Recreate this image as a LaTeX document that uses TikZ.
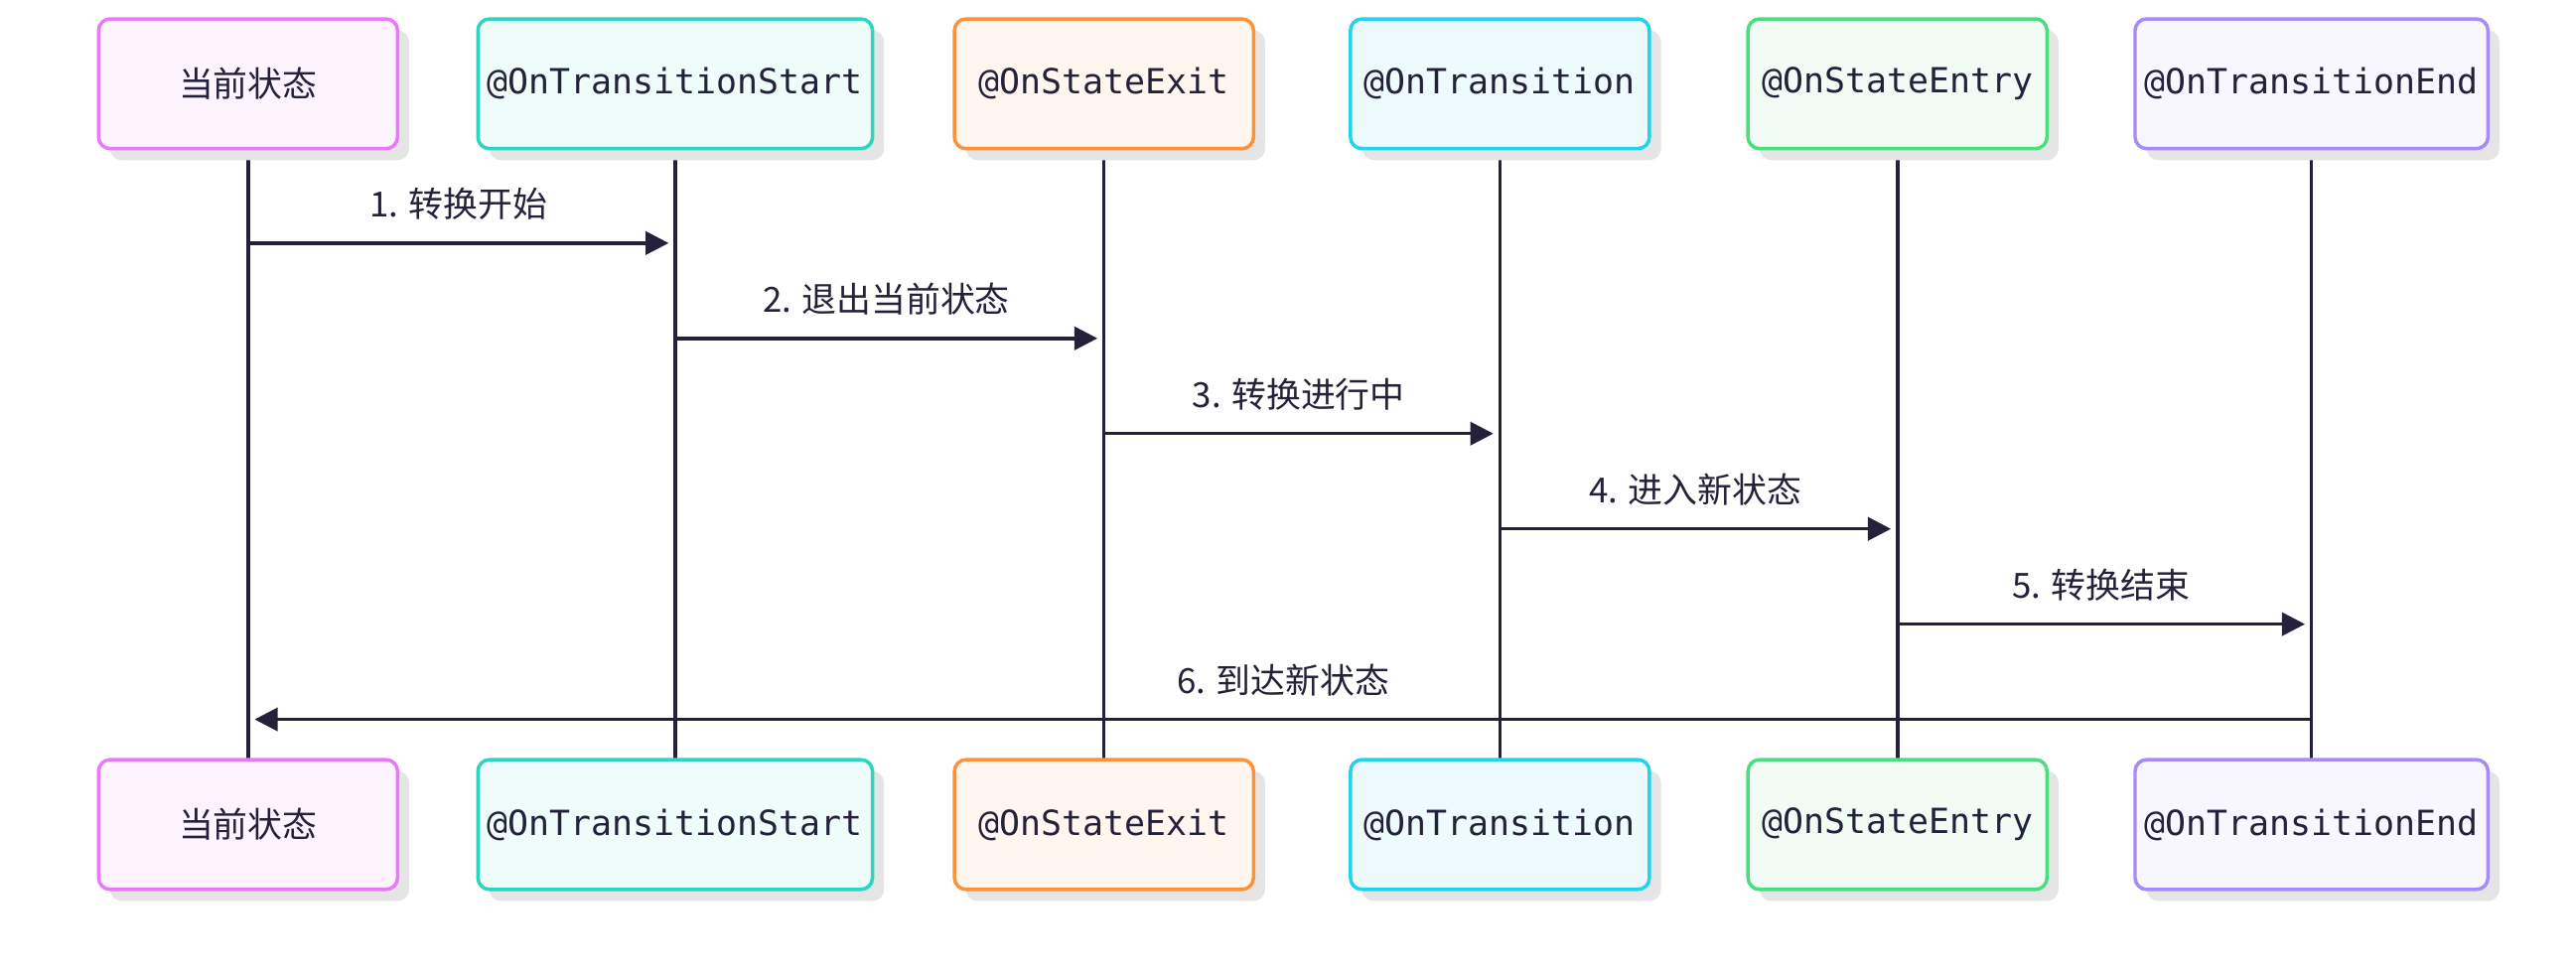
\documentclass[tikz,border=0pt]{standalone}
\usepackage{fontspec}
\setmonofont{DejaVu Sans Mono}
\newfontfamily\cjk{Noto Sans CJK SC}
\usetikzlibrary{positioning}
\usetikzlibrary{arrows.meta}
\usetikzlibrary{shadows}
\definecolor{inkc}{HTML}{24213A}
\tikzset{
	actor/.style={draw=#1, fill=#1!8!white, line width=1.2pt, rounded corners=4pt,
		minimum height=1.58cm, font=\ttfamily\large, text=inkc,
		drop shadow={shadow xshift=4pt, shadow yshift=-4pt, fill=black!10, opacity=1}},
	life/.style={draw=inkc, line width=1.2pt},
	msg/.style={draw=inkc, line width=1.2pt, -{Triangle[length=8pt,width=8pt]}},
	lbl/.style={above=4pt, font=\cjk\large, text=inkc}
}
\definecolor{pinkc}{HTML}{E879F9}
\definecolor{tealc}{HTML}{2DD4BF}
\definecolor{orangec}{HTML}{FB923C}
\definecolor{cyanc}{HTML}{22D3EE}
\definecolor{greenc}{HTML}{4ADE80}
\definecolor{purplec}{HTML}{A78BFA}
\begin{document}
\begin{tikzpicture}[x=0.02cm, y=-0.02cm]
		\useasboundingbox (0,0) rectangle (1568,591);
		
		% lifelines first, boxes on top
		\foreach \x in {151,411,672,913,1155,1407}
		\draw[life] (\x,51) -- (\x,502);
		
		\foreach \name/\x/\w/\col/\txt in {cur/151/182/pinkc/{\cjk 当前状态},
			start/411/220/tealc/@OnTransitionStart,
			exit/672/182/orangec/@OnStateExit,
			trans/913/182/cyanc/@OnTransition,
			entry/1155/182/greenc/@OnStateEntry,
			tend/1407/201/purplec/@OnTransitionEnd}{
			\node[actor=\col, minimum width=\w*0.02cm] (\name top) at (\x,51) {\txt};
			\node[actor=\col, minimum width=\w*0.02cm] (\name bot) at (\x,502) {\txt};
		}
		
		\coordinate (m1a) at (151,148);  \coordinate (m1b) at (407,148);
		\coordinate (m2a) at (411,206);  \coordinate (m2b) at (668,206);
		\coordinate (m3a) at (672,264);  \coordinate (m3b) at (909,264);
		\coordinate (m4a) at (913,322);  \coordinate (m4b) at (1151,322);
		\coordinate (m5a) at (1155,380); \coordinate (m5b) at (1403,380);
		\coordinate (m6a) at (1407,438); \coordinate (m6b) at (155,438);
		
		\draw[msg] (m1a) -- node[lbl] {1. 转换开始} (m1b);
		\draw[msg] (m2a) -- node[lbl] {2. 退出当前状态} (m2b);
		\draw[msg] (m3a) -- node[lbl] {3. 转换进行中} (m3b);
		\draw[msg] (m4a) -- node[lbl] {4. 进入新状态} (m4b);
		\draw[msg] (m5a) -- node[lbl] {5. 转换结束} (m5b);
		\draw[msg] (m6a) -- node[lbl] {6. 到达新状态} (m6b);
	\end{tikzpicture}
\end{document}
